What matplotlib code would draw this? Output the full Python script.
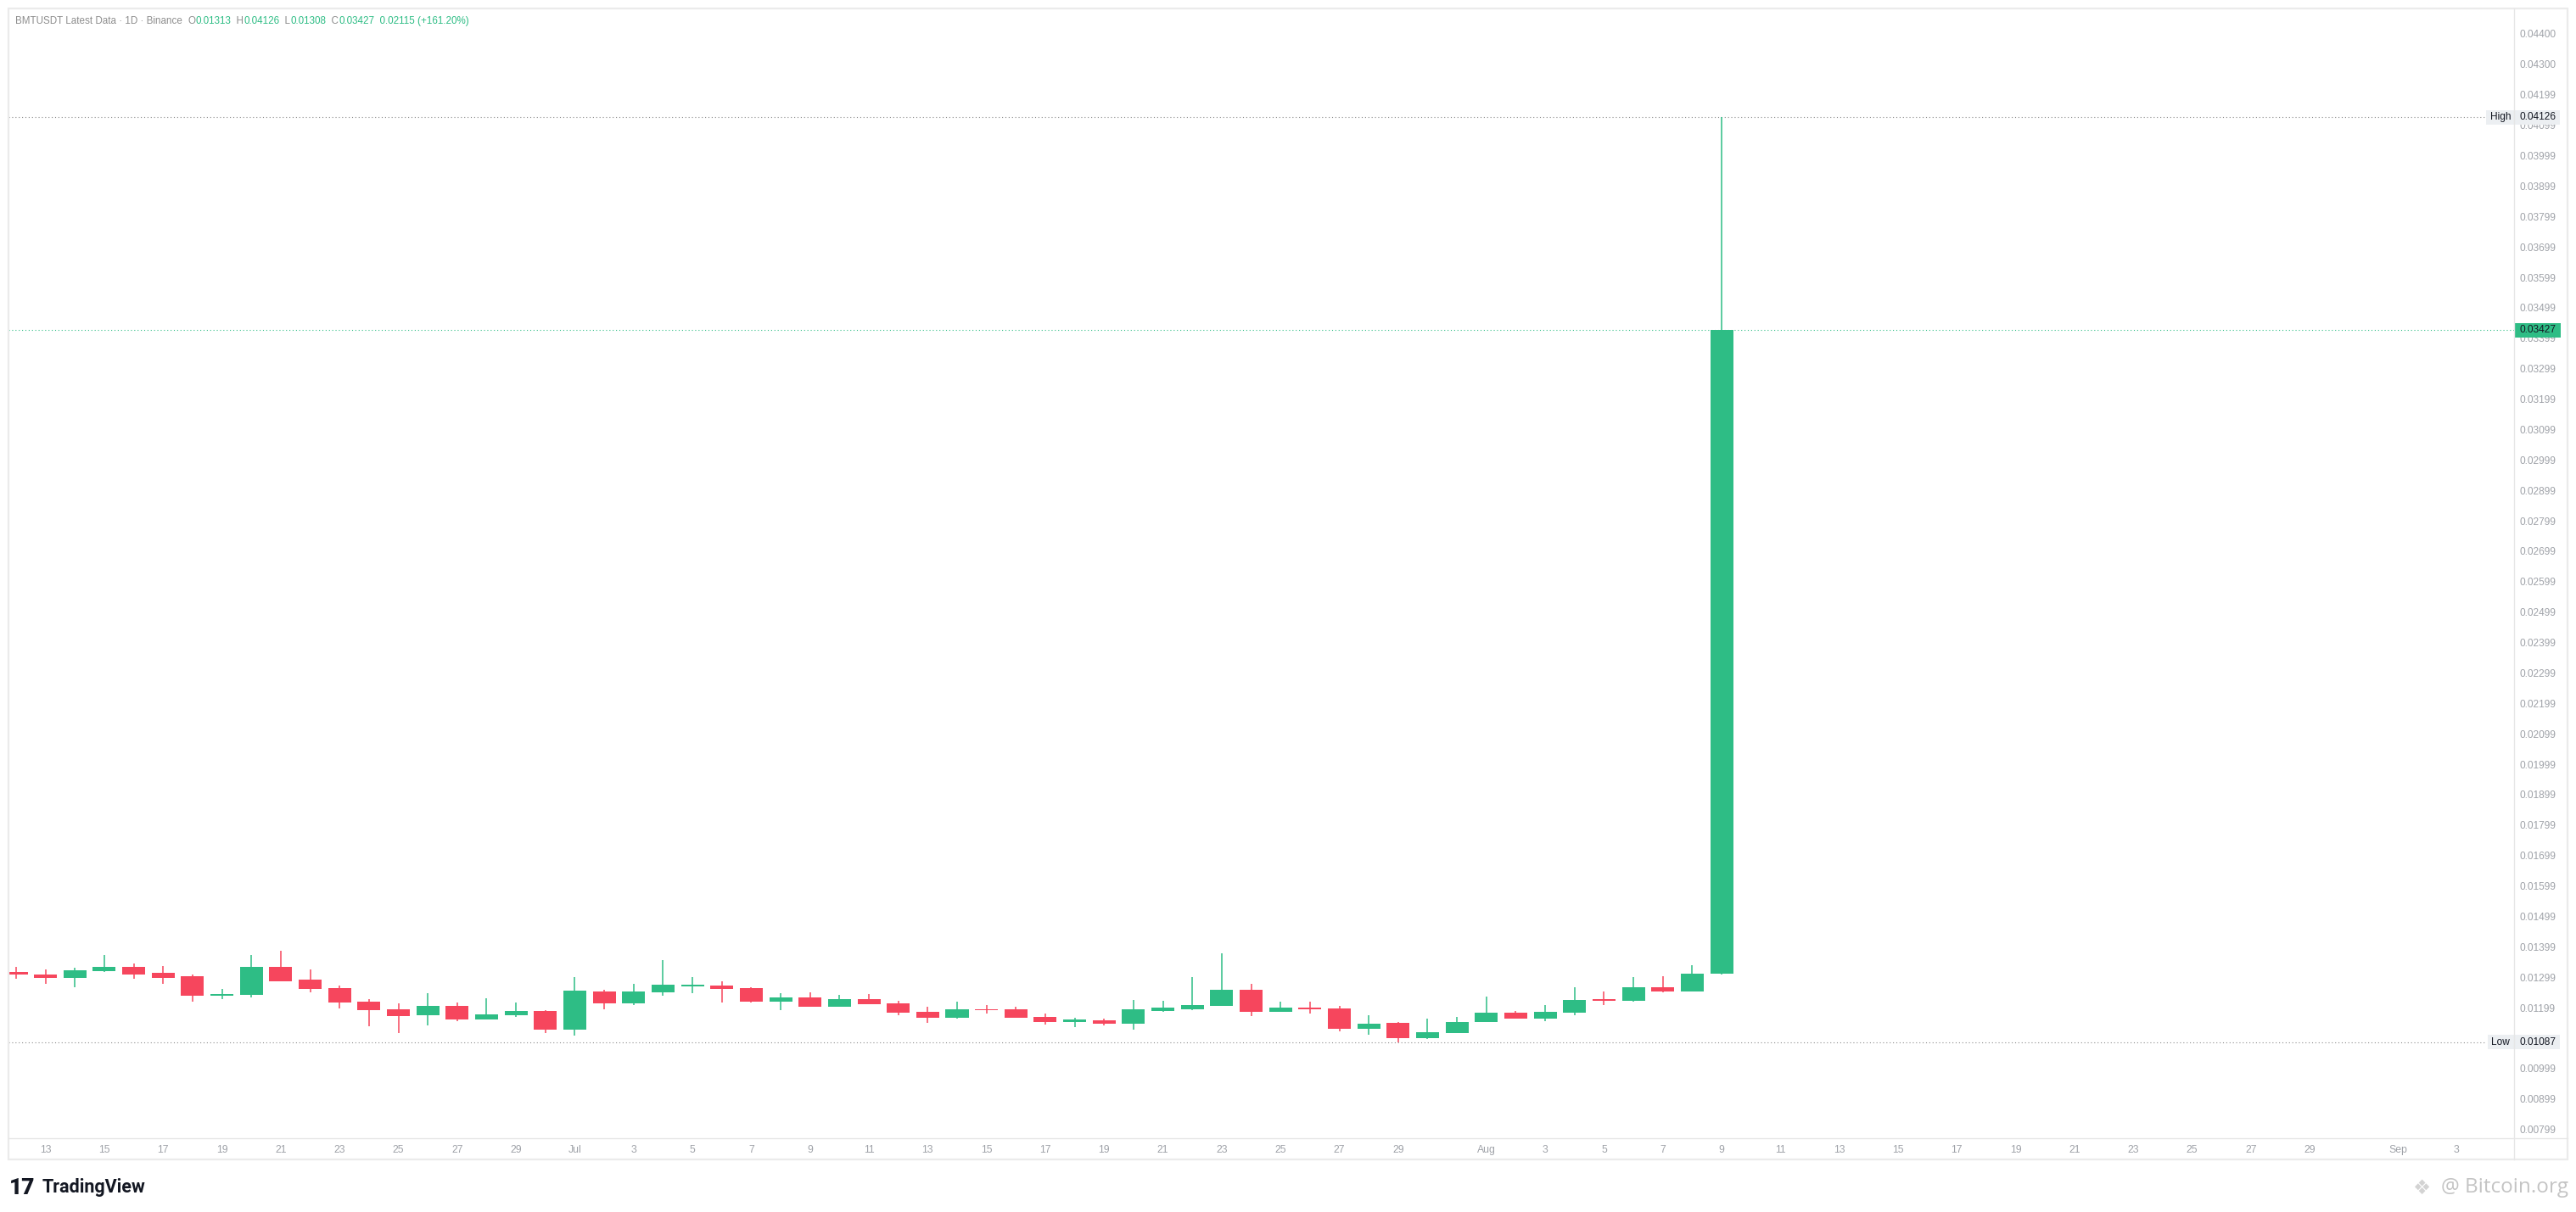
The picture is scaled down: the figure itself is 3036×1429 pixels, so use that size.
import matplotlib
matplotlib.use("Agg")
import matplotlib.pyplot as plt
import matplotlib.dates as mdates
from matplotlib.transforms import blended_transform_factory
from matplotlib.patches import Rectangle
from matplotlib.lines import Line2D
import numpy as np
import pandas as pd

# ---------------- data ----------------
symbol_title = "BMTUSDT Latest Data · 1D · Binance"
start_date = "2025-06-12"

opens = [0.01318, 0.01309, 0.01299, 0.01321, 0.01335, 0.01315, 0.01304, 0.01240, 0.01243, 0.01335,
         0.01293, 0.01265, 0.01220, 0.01195, 0.01176, 0.01206, 0.01162, 0.01176, 0.01190, 0.01128,
         0.01254, 0.01215, 0.01251, 0.01271, 0.01273, 0.01265, 0.01220, 0.01234, 0.01204, 0.01229,
         0.01215, 0.01187, 0.01167, 0.01195, 0.01195, 0.01170, 0.01153, 0.01159, 0.01148, 0.01190,
         0.01195, 0.01206, 0.01259, 0.01187, 0.01201, 0.01198, 0.01131, 0.01151, 0.01100, 0.01117,
         0.01153, 0.01184, 0.01165, 0.01184, 0.01226, 0.01223, 0.01268, 0.01254, 0.01313]
highs = [0.01335, 0.01327, 0.01332, 0.01374, 0.01346, 0.01337, 0.01309, 0.01262, 0.01374, 0.01388,
         0.01326, 0.01274, 0.01229, 0.01215, 0.01248, 0.01218, 0.01231, 0.01218, 0.01192, 0.01301,
         0.01259, 0.01279, 0.01357, 0.01301, 0.01287, 0.01268, 0.01248, 0.01251, 0.01243, 0.01245,
         0.01223, 0.01204, 0.01220, 0.01209, 0.01204, 0.01181, 0.01167, 0.01165, 0.01226, 0.01223,
         0.01301, 0.01379, 0.01279, 0.01220, 0.01220, 0.01206, 0.01176, 0.01153, 0.01165, 0.01170,
         0.01237, 0.01190, 0.01209, 0.01268, 0.01254, 0.01301, 0.01304, 0.01340, 0.04126]
lows = [0.01296, 0.01279, 0.01268, 0.01318, 0.01296, 0.01279, 0.01220, 0.01229, 0.01234, 0.01287,
        0.01251, 0.01197, 0.01139, 0.01117, 0.01142, 0.01156, 0.01162, 0.01170, 0.01117, 0.01109,
        0.01195, 0.01209, 0.01240, 0.01248, 0.01218, 0.01218, 0.01192, 0.01204, 0.01204, 0.01212,
        0.01176, 0.01150, 0.01165, 0.01181, 0.01167, 0.01145, 0.01137, 0.01142, 0.01128, 0.01187,
        0.01192, 0.01206, 0.01173, 0.01187, 0.01181, 0.01123, 0.01112, 0.01087, 0.01098, 0.01117,
        0.01153, 0.01165, 0.01156, 0.01176, 0.01209, 0.01220, 0.01251, 0.01254, 0.01308]
closes = [0.01309, 0.01299, 0.01323, 0.01335, 0.01309, 0.01299, 0.01240, 0.01245, 0.01335, 0.01287,
          0.01262, 0.01218, 0.01192, 0.01173, 0.01206, 0.01162, 0.01178, 0.01190, 0.01128, 0.01257,
          0.01215, 0.01254, 0.01276, 0.01273, 0.01262, 0.01220, 0.01234, 0.01204, 0.01229, 0.01212,
          0.01184, 0.01167, 0.01195, 0.01192, 0.01167, 0.01153, 0.01162, 0.01148, 0.01195, 0.01201,
          0.01209, 0.01259, 0.01187, 0.01201, 0.01195, 0.01131, 0.01148, 0.01100, 0.01120, 0.01153,
          0.01184, 0.01165, 0.01187, 0.01226, 0.01223, 0.01268, 0.01254, 0.01312, 0.03427]

tick_dates = ["2025-06-13", "2025-06-15", "2025-06-17", "2025-06-19", "2025-06-21", "2025-06-23",
              "2025-06-25", "2025-06-27", "2025-06-29", "2025-07-01", "2025-07-03", "2025-07-05",
              "2025-07-07", "2025-07-09", "2025-07-11", "2025-07-13", "2025-07-15", "2025-07-17",
              "2025-07-19", "2025-07-21", "2025-07-23", "2025-07-25", "2025-07-27", "2025-07-29",
              "2025-08-01", "2025-08-03", "2025-08-05", "2025-08-07", "2025-08-09", "2025-08-11",
              "2025-08-13", "2025-08-15", "2025-08-17", "2025-08-19", "2025-08-21", "2025-08-23",
              "2025-08-25", "2025-08-27", "2025-08-29", "2025-09-01", "2025-09-03"]
tick_labels = ["13", "15", "17", "19", "21", "23", "25", "27", "29", "Jul", "3", "5", "7", "9", "11",
               "13", "15", "17", "19", "21", "23", "25", "27", "29", "Aug", "3", "5", "7", "9", "11",
               "13", "15", "17", "19", "21", "23", "25", "27", "29", "Sep", "3"]

price_ticks = [0.044, 0.043, 0.042, 0.041, 0.040, 0.039, 0.038, 0.037, 0.036, 0.035, 0.034, 0.033,
               0.032, 0.031, 0.030, 0.029, 0.028, 0.027, 0.026, 0.025, 0.024, 0.023, 0.022, 0.021,
               0.020, 0.019, 0.018, 0.017, 0.016, 0.015, 0.014, 0.013, 0.012, 0.011, 0.010, 0.009,
               0.008]
price_labels = ["0.04400", "0.04300", "0.04199", "0.04099", "0.03999", "0.03899", "0.03799",
                "0.03699", "0.03599", "0.03499", "0.03399", "0.03299", "0.03199", "0.03099",
                "0.02999", "0.02899", "0.02799", "0.02699", "0.02599", "0.02499", "0.02399",
                "0.02299", "0.02199", "0.02099", "0.01999", "0.01899", "0.01799", "0.01699",
                "0.01599", "0.01499", "0.01399", "0.01299", "0.01199", "0.01099", "0.00999",
                "0.00899", "0.00799"]

# ---------------- style ----------------
GREEN = "#2EBD85"
RED = "#F6465D"
AXIS_TXT = "#9fa2a8"
TITLE_GRAY = "#8d8d8d"
FRAME = "#ebebeb"
FONT = ["Liberation Sans", "DejaVu Sans"]
plt.rcParams["font.family"] = FONT

W, H = 3036, 1429
fig = plt.figure(figsize=(W / 100, H / 100), dpi=100)
fig.patch.set_facecolor("white")

def fx(px):
    return px / W

def fy(py):
    return 1 - py / H

ax = fig.add_axes([fx(10), fy(1342), fx(2963) - fx(10), fy(10) - fy(1342)])
ax.set_facecolor("white")

dates = pd.date_range(start_date, periods=len(opens), freq="D")
x = mdates.date2num(dates.to_pydatetime())
o = np.array(opens)
h = np.array(highs)
l = np.array(lows)
c = np.array(closes)
up = c >= o
colors = np.where(up, GREEN, RED)

# wicks
ax.vlines(x, l, h, colors=colors, linewidth=1.1, zorder=2)
# bodies
body_bottom = np.minimum(o, c)
body_h = np.maximum(np.abs(c - o), 0.00004)
ax.bar(x, body_h, bottom=body_bottom, width=0.78, color=colors, linewidth=0, zorder=3)

# axis limits
ax.set_xlim(x[0] - 0.26, x[-1] + 26.95)
ax.set_ylim(0.007712, 0.044836)

# ticks
ax.set_xticks(mdates.date2num(pd.to_datetime(tick_dates).to_pydatetime()))
ax.set_xticklabels(tick_labels)
ax.set_yticks(price_ticks)
ax.set_yticklabels(price_labels)
ax.yaxis.tick_right()
ax.tick_params(axis="y", length=0, pad=5, labelsize=8.6, labelcolor=AXIS_TXT)
ax.tick_params(axis="x", length=0, pad=6, labelsize=8.8, labelcolor=AXIS_TXT)
for s in ax.spines.values():
    s.set_visible(False)

# high / low / close lines
hi = max(highs)
lo = min(lows)
last = closes[-1]
trans = blended_transform_factory(ax.transAxes, ax.transData)

def axx(px):
    return (px - 10) / 2953

ax.plot([0, axx(2930)], [hi, hi], transform=trans, color="#8a8a8a", lw=0.8,
        linestyle=(0, (1, 2.5)), zorder=1)
ax.plot([0, axx(2930)], [lo, lo], transform=trans, color="#8a8a8a", lw=0.8,
        linestyle=(0, (1, 2.5)), zorder=1)
ax.plot([0, 1], [last, last], transform=trans, color=GREEN, lw=0.8,
        linestyle=(0, (1, 2.5)), zorder=1)

px_per_unit = 1332 / (0.044836 - 0.007712)
half = 8.5 / px_per_unit

# High label
ax.add_patch(Rectangle((axx(2930), hi - half), axx(3017) - axx(2930), 2 * half, transform=trans,
                       facecolor="#eceff2", edgecolor="none", clip_on=False, zorder=5))
ax.text(axx(2935), hi, "High", transform=trans, ha="left", va="center", fontsize=8.6,
        color="#131722", clip_on=False, zorder=6)
ax.text(axx(2969), hi, f"{hi:.5f}", transform=trans, ha="left", va="center", fontsize=8.6,
        color="#131722", clip_on=False, zorder=6)
# Low label
ax.add_patch(Rectangle((axx(2932), lo - half), axx(3017) - axx(2932), 2 * half, transform=trans,
                       facecolor="#eceff2", edgecolor="none", clip_on=False, zorder=5))
ax.text(axx(2936), lo, "Low", transform=trans, ha="left", va="center", fontsize=8.6,
        color="#131722", clip_on=False, zorder=6)
ax.text(axx(2969), lo, f"{lo:.5f}", transform=trans, ha="left", va="center", fontsize=8.6,
        color="#131722", clip_on=False, zorder=6)
# Close label
ax.add_patch(Rectangle((axx(2963), last - half), axx(3018) - axx(2963), 2 * half, transform=trans,
                       facecolor=GREEN, edgecolor="none", clip_on=False, zorder=5))
ax.text(axx(2969), last, f"{last:.5f}", transform=trans, ha="left", va="center", fontsize=8.6,
        color="#131722", clip_on=False, zorder=6)

# frame lines (figure level)
fig.add_artist(Rectangle((fx(10), fy(1367)), fx(3026) - fx(10), fy(10) - fy(1367),
                         transform=fig.transFigure, facecolor="none", edgecolor=FRAME, lw=1.6))
fig.add_artist(Line2D([fx(10), fx(3026)], [fy(1342), fy(1342)], transform=fig.transFigure,
                      color="#e6e6e6", lw=1.0))
fig.add_artist(Line2D([fx(2963), fx(2963)], [fy(10), fy(1367)], transform=fig.transFigure,
                      color="#e6e6e6", lw=1.0))

# title line (segments chained left to right)
chg = closes[-1] - closes[-2]
pct = chg / closes[-2] * 100
segs = [(symbol_title + "  ", TITLE_GRAY), ("O", TITLE_GRAY), (f"{opens[-1]:.5f}", GREEN),
        ("  H", TITLE_GRAY), (f"{highs[-1]:.5f}", GREEN), ("  L", TITLE_GRAY),
        (f"{lows[-1]:.5f}", GREEN), ("  C", TITLE_GRAY), (f"{closes[-1]:.5f}", GREEN),
        (f"  {chg:.5f} (+{pct:.2f}%)", GREEN)]
title_texts = []
for s, col in segs:
    title_texts.append(fig.text(fx(18), fy(25), s, color=col, fontsize=8.4, ha="left", va="center"))
fig.canvas.draw()
renderer = fig.canvas.get_renderer()
x_cursor = None
for i, tt in enumerate(title_texts):
    if i > 0:
        tt.set_position((x_cursor / W, fy(25)))
    bb = tt.get_window_extent(renderer)
    x_cursor = bb.x1

# TradingView branding
fig.text(fx(11), fy(1401), "17", fontsize=19, fontweight="heavy", color="#131722",
         ha="left", va="center", family=["Roboto", "DejaVu Sans"])
fig.text(fx(50), fy(1400), "TradingView", fontsize=15.5, fontweight="bold", color="#131722",
         ha="left", va="center", family=["Roboto", "DejaVu Sans"])

# watermark
fig.text(fx(2843), fy(1401), "❖", fontsize=17, color="#d3d3d3", ha="left", va="center",
         family=["DejaVu Sans"])
fig.text(fx(3027), fy(1400), "@ Bitcoin.org", fontsize=17.5, color="#c4c4c4", ha="right",
         va="center", family=["Open Sans", "DejaVu Sans"])

fig.savefig("out.png", dpi=100, facecolor="white")
